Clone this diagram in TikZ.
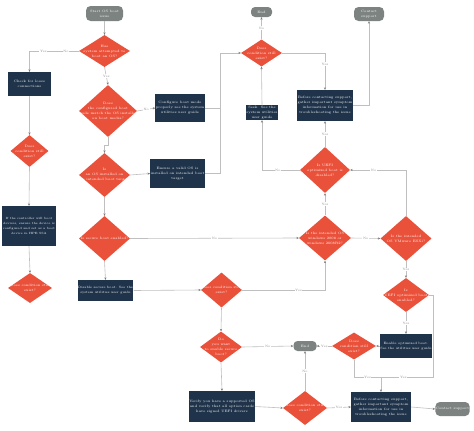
\documentclass[tikz,border=0pt]{standalone}
\usetikzlibrary{shapes.geometric,arrows.meta}
\definecolor{dred}{HTML}{E9513A}
\definecolor{navy}{HTML}{1F334A}
\definecolor{pillc}{HTML}{7D8380}
\definecolor{lnc}{HTML}{BFBFBF}
\definecolor{lblc}{HTML}{8A8A8A}
\definecolor{tipc}{HTML}{7A7A7A}
\begin{document}
\begin{tikzpicture}[x=1pt,y=-1pt,
  dia/.style={diamond, fill=dred, draw=none, inner sep=0pt,
    label={[dtext]center:#1}},
  dtext/.style={text=white, align=center, inner sep=0pt, font=\fontsize{3.4}{5}\selectfont},
  box/.style={rectangle, fill=navy, draw=none, text=white, align=center, inner sep=0.5pt,
    font=\fontsize{3.4}{5}\selectfont},
  term/.style={rectangle, rounded corners=4.5pt, fill=pillc, draw=none, text=white, align=center,
    inner sep=0.5pt, font=\fontsize{3.4}{5}\selectfont},
  conn/.style={draw=lnc, line width=0.6pt},
  arr/.style={conn, -{Stealth[length=2.4pt,width=2.2pt,color=tipc]}},
  lab/.style={fill=white, text=lblc, inner sep=0.7pt, font=\fontsize{3.2}{3.2}\selectfont}
]
\useasboundingbox (0,0) rectangle (474,431);
\fill[white] (0,0) rectangle (474,431);

% terminals
\node[term, minimum width=37pt, minimum height=15pt] (start) at (104.5,13.5) {Start OS boot\\issue};
\node[term, minimum width=21pt, minimum height=10pt, rounded corners=4pt] (end1) at (261.5,12) {End};
\node[term, minimum width=30pt, minimum height=14pt] (cont1) at (369,14) {Contact\\support};
\node[term, minimum width=23pt, minimum height=10pt, rounded corners=4pt] (end2) at (305,346) {End};
\node[term, minimum width=31pt, minimum height=14pt] (cont2) at (452.5,409) {Contact support};

% diamonds
\node[dia={Has\\system attempted to\\boot an OS?}, minimum width=51pt, minimum height=32pt] (d1) at (104.5,51) {};
\node[dia={Does\\the configured boot\\mode match the OS installed\\on boot media?}, minimum width=58pt, minimum height=52pt] (d2) at (108,111) {};
\node[dia={Does\\condition still\\exist?}, minimum width=41pt, minimum height=27pt] (d3) at (261.5,53) {};
\node[dia={Is UEFI\\optimized boot is\\disabled?}, minimum width=50pt, minimum height=46pt] (uefid) at (325,170) {};
\node[dia={Does\\condition still\\exist?}, minimum width=38pt, minimum height=32pt] (lc1) at (29.5,151) {};
\node[dia={Is\\an OS installed on\\the intended boot target?}, minimum width=51pt, minimum height=44pt] (d4) at (104.5,175) {};
\node[dia={Is secure boot enabled?}, minimum width=51pt, minimum height=45pt] (d5) at (104.5,238.5) {};
\node[dia={Is the intended OS\\windows 2008 or\\windows 2008R2?}, minimum width=52pt, minimum height=45pt] (d6) at (325,238) {};
\node[dia={Is the intended\\OS VMware ESXi?}, minimum width=51pt, minimum height=45pt] (esxi) at (406,238.5) {};
\node[dia={Is\\UEFI optimized boot\\enabled?}, minimum width=46pt, minimum height=34pt] (uefie) at (406,295) {};
\node[dia={Does\\condition still\\exist?}, minimum width=44pt, minimum height=27pt] (cond3) at (354,346) {};
\node[dia={Does condition still\\exist?}, minimum width=44pt, minimum height=30pt] (lc2) at (30,288) {};
\node[dia={Does condition still\\exist?}, minimum width=41pt, minimum height=35pt] (cond2) at (221.5,290) {};
\node[dia={Do\\you want\\to enable secure\\boot?}, minimum width=42pt, minimum height=31pt] (want) at (221,347) {};
\node[dia={Does condition still\\exist?}, minimum width=44pt, minimum height=34pt] (cond4) at (305,408) {};

% boxes
\node[box, minimum width=43pt, minimum height=24pt] (check) at (29.5,84) {Check for loose\\connections};
\node[box, minimum width=46pt, minimum height=28pt] (conf) at (180,108) {Configure boot mode\\properly see the system\\utilities user guide};
\node[box, minimum width=30pt, minimum height=15pt] (seek) at (262,112.5) {Seek. See the\\system utilities\\user guide};
\node[box, minimum width=56pt, minimum height=31pt] (bef1) at (325,105.5) {Before contacting support,\\gather important symptom\\information for use in\\troubleshooting the issue};
\node[box, minimum width=45pt, minimum height=29pt] (ens) at (177.5,173.5) {Ensure a valid OS is\\installed on intended boot\\target};
\node[box, minimum width=46pt, minimum height=40pt, font=\fontsize{3.05}{5}\selectfont] (ctrl) at (29,226) {If the controller will boot\\devices, ensure the device is\\configured and set as a boot\\device in HPE SSA};
\node[box, minimum width=45pt, minimum height=21pt, font=\fontsize{3.2}{5}\selectfont] (dis) at (105.5,290.5) {Disable secure boot. See the\\system utilities user guide};
\node[box, minimum width=58pt, minimum height=31pt] (verify) at (222,406.5) {Verify you have a supported OS\\and verify that all option cards\\have signed UEFI drivers};
\node[box, minimum width=44pt, minimum height=24pt, font=\fontsize{3.2}{5}\selectfont] (enable) at (406,346) {Enable optimized boot.\\See the utilities user guide};
\node[box, minimum width=60pt, minimum height=30pt] (bef2) at (381,407) {Before contacting support,\\gather important symptom\\information for use in\\troubleshooting the issue};

% helper coordinates
\coordinate (xj) at (220,53);
\coordinate (j2) at (381,377);
\coordinate (k1) at (433,377);

% connectors
\draw[arr] (start) -- (d1);
\draw[arr] (d1.west) -| node[lab, pos=0.13] (l1a) {No} node[lab, pos=0.36] (l1b) {Yes} (check.north);
\draw[arr] (d1.south) -- node[lab] (l2) {Yes} (d2.north);
\draw[arr] (d2.east) -- node[lab] (l3) {No} (conf.west);
\draw[arr] (conf.east) -| (xj) -- (d3.west);
\draw[conn] (ens.east) -| (xj);
\draw[arr] (d3.north) -- node[lab] (l4) {No} (end1.south);
\draw[arr] (d3.east) -| node[lab, pos=0.65] (l5) {Yes} (bef1.north);
\draw[arr] (bef1.east) -| (cont1.south);
\draw[arr] (uefid.north) -- node[lab] (l6) {Yes} (bef1.south);
\draw[arr] (seek.north) -- (d3.south);
\draw[arr] (uefid.west) -| node[lab, pos=0.29] (l7) {No} (seek.south);
\draw[arr] (d2.south) -- ++(0,8) -| (d4.north);
\draw[arr] (d4.east) -- (ens.west);
\draw[arr] (d4.south) -- (d5.north);
\draw[arr] (d5.east) -- node[lab] (l8) {No} (d6.west);
\draw[arr] (d6.north) -- node[lab] (l9) {Yes} (uefid.south);
\draw[arr] (d6.east) -- node[lab] (l10) {No} (esxi.west);
\draw[arr] (esxi.north) |- node[lab, pos=0.79] (l11) {No} (uefid.east);
\draw[arr] (esxi.south) -- node[lab] (l12) {Yes} (uefie.north);
\draw[arr] (uefie.south) -- node[lab] (l13) {Yes} (enable.north);
\draw[arr] (enable.west) -- (cond3.east);
\draw[arr] (cond3.west) -- node[lab] (l14) {Yes} (end2.east);
\draw[conn] (uefie.east) -| (k1) -- node[lab, pos=0.57] (l15) {Yes} (j2);
\draw[conn] (cond3.south) |- node[lab, pos=0.75] (l16) {Yes} (j2);
\draw[arr] (j2) -- (bef2.north);
\draw[arr] (bef2.east) -- (cont2.west);
\draw[arr] (d5.south) -- (dis.north);
\draw[arr] (dis.east) -- (cond2.west);
\draw[arr] (cond2.east) -| node[lab, pos=0.34] (l17) {Yes} (d6.south);
\draw[arr] (cond2.south) -- (want.north);
\draw[arr] (want.east) -- node[lab] (l18) {No} (end2.west);
\draw[arr] (want.south) -- (verify.north);
\draw[arr] (verify.east) -- (cond4.west);
\draw[arr] (cond4.north) -- node[lab] (l19) {No} (end2.south);
\draw[arr] (cond4.east) -- node[lab] (l20) {Yes} (bef2.west);
\draw[arr] (check.south) -- (lc1.north);
\draw[arr] (lc1.south) -- (ctrl.north);
\draw[arr] (ctrl.south) -- (lc2.north);
\end{tikzpicture}
\end{document}
